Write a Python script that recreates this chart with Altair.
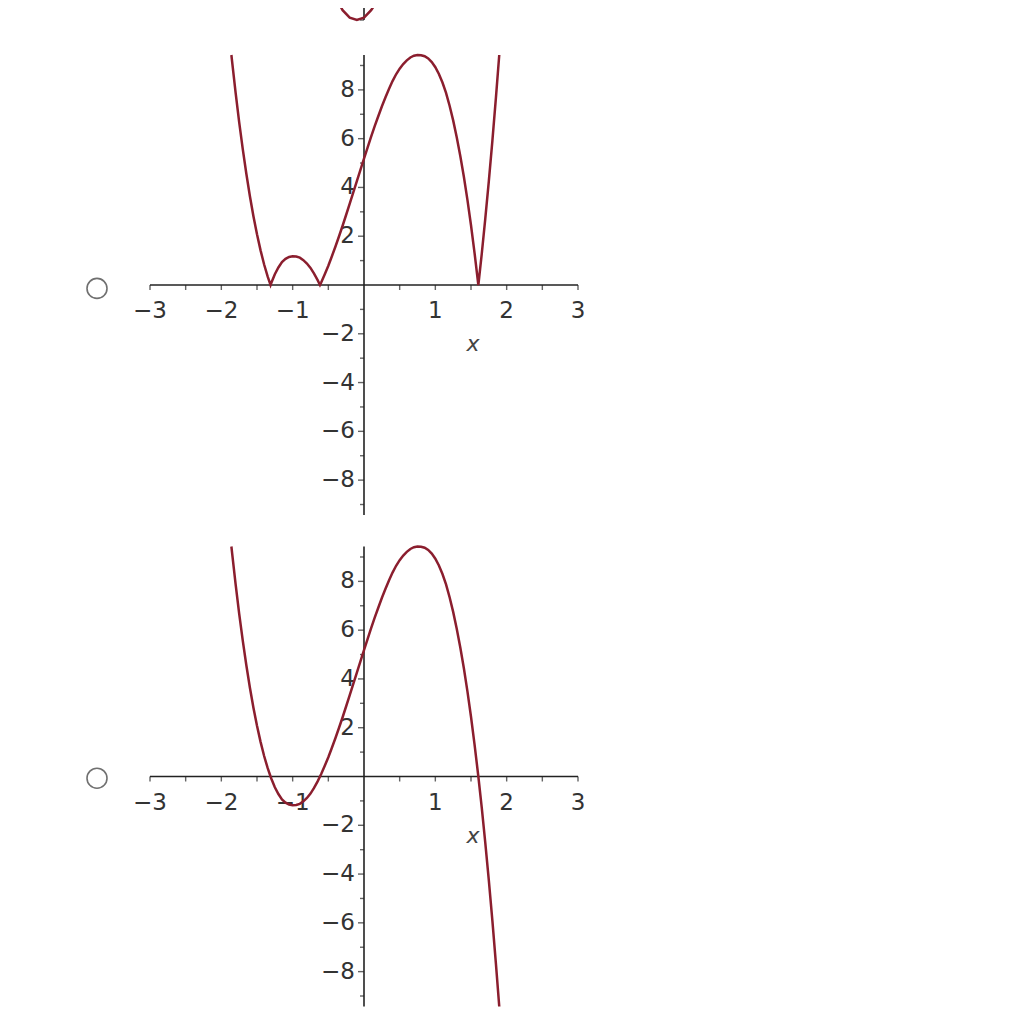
import altair as alt
import pandas as pd

# ---------------- data ----------------
# x positions along the curve
fx = [-1.859, -1.85, -1.80, -1.75, -1.70, -1.65, -1.60, -1.55, -1.50, -1.45,
      -1.40, -1.35, -1.31, -1.30, -1.25, -1.20, -1.15, -1.10, -1.05, -1.00,
      -0.95, -0.90, -0.85, -0.80, -0.75, -0.70, -0.65, -0.617, -0.60, -0.55,
      -0.50, -0.45, -0.40, -0.35, -0.30, -0.25, -0.20, -0.15, -0.10, -0.05,
      0.00, 0.05, 0.10, 0.15, 0.20, 0.25, 0.30, 0.35, 0.40, 0.45,
      0.50, 0.55, 0.60, 0.65, 0.70, 0.75, 0.80, 0.85, 0.90, 0.95,
      1.00, 1.05, 1.10, 1.15, 1.20, 1.25, 1.30, 1.35, 1.40, 1.45,
      1.50, 1.55, 1.603, 1.65, 1.70, 1.75, 1.80, 1.85, 1.896]

# lower option: the curve itself
fy = [9.43, 9.19, 7.89, 6.68, 5.58, 4.57, 3.65, 2.82, 2.08, 1.42,
      0.84, 0.34, 0.00, -0.08, -0.44, -0.72, -0.94, -1.07, -1.15, -1.18,
      -1.17, -1.12, -1.02, -0.88, -0.70, -0.47, -0.20, 0.00, 0.10, 0.44,
      0.79, 1.18, 1.58, 2.00, 2.43, 2.88, 3.34, 3.80, 4.26, 4.72,
      5.18, 5.63, 6.08, 6.51, 6.92, 7.32, 7.69, 8.04, 8.36, 8.64,
      8.87, 9.06, 9.21, 9.33, 9.40, 9.43, 9.42, 9.38, 9.29, 9.14,
      8.93, 8.65, 8.30, 7.88, 7.35, 6.75, 6.06, 5.29, 4.44, 3.49,
      2.45, 1.31, 0.00, -1.26, -2.71, -4.26, -5.92, -7.70, -9.43]

# upper option: the folded (absolute value) curve
gy = [9.43, 9.19, 7.89, 6.68, 5.58, 4.57, 3.65, 2.82, 2.08, 1.42,
      0.84, 0.34, 0.00, 0.08, 0.44, 0.72, 0.94, 1.07, 1.15, 1.18,
      1.17, 1.12, 1.02, 0.88, 0.70, 0.47, 0.20, 0.00, 0.10, 0.44,
      0.79, 1.18, 1.58, 2.00, 2.43, 2.88, 3.34, 3.80, 4.26, 4.72,
      5.18, 5.63, 6.08, 6.51, 6.92, 7.32, 7.69, 8.04, 8.36, 8.64,
      8.87, 9.06, 9.21, 9.33, 9.40, 9.43, 9.42, 9.38, 9.29, 9.14,
      8.93, 8.65, 8.30, 7.88, 7.35, 6.75, 6.06, 5.29, 4.44, 3.49,
      2.45, 1.31, 0.00, 1.26, 2.71, 4.26, 5.92, 7.70, 9.43]

# bottom of the previous (cut-off) option at the top of the page
tx = [-0.50, -0.40, -0.30, -0.20, -0.10, 0.00, 0.10, 0.20, 0.30]
ty = [-7.50, -8.05, -8.60, -8.90, -9.00, -8.90, -8.60, -8.15, -7.55]

x_ticks = [-3, -2.5, -2, -1.5, -1, -0.5, 0.5, 1, 1.5, 2, 2.5, 3]
x_labels = [-3, -2, -1, 1, 2, 3]
y_major = [-8, -6, -4, -2, 2, 4, 6, 8]
y_minor = [-9, -7, -5, -3, -1, 1, 3, 5, 7, 9]

# ---------------- styling ----------------
M = 8
FONT = "DejaVu Sans"
CURVE = "#8B1E2E"
AX = "#222222"
TXT = "#333333"

xscale = alt.Scale(domain=[-3, 3], range=[150 - M, 578 - M], nice=False, zero=False)


def lab(v):
    return ("\u2212" if v < 0 else "") + str(abs(int(v)))


def panel(lim, bottom_px, top_px, cx, cy, full=True, radio_y=-0.1):
    ys = alt.Scale(domain=[-lim, lim], range=[bottom_px - M, top_px - M],
                   nice=False, zero=False)

    def X(f):
        return alt.X(f, type="quantitative", scale=xscale, axis=None)

    def Y(f):
        return alt.Y(f, type="quantitative", scale=ys, axis=None)

    L = []
    # y axis line
    L.append(alt.Chart(pd.DataFrame({"x": [0], "y": [-lim], "y2": [lim]}))
             .mark_rule(color=AX, strokeWidth=1.6)
             .encode(x=X("x"), y=Y("y"), y2="y2:Q"))
    # y ticks
    L.append(alt.Chart(pd.DataFrame({"x": [0] * len(y_major), "y": y_major}))
             .mark_tick(orient="horizontal", size=6, thickness=1.4, color=AX, xOffset=-3)
             .encode(x=X("x"), y=Y("y")))
    L.append(alt.Chart(pd.DataFrame({"x": [0] * len(y_minor), "y": y_minor}))
             .mark_tick(orient="horizontal", size=4, thickness=1.4, color=AX, xOffset=-2)
             .encode(x=X("x"), y=Y("y")))
    if full:
        # y labels
        L.append(alt.Chart(pd.DataFrame({"x": [0] * len(y_major), "y": y_major,
                                         "t": [lab(v) for v in y_major]}))
                 .mark_text(align="right", baseline="middle", dx=-9, font=FONT,
                            fontSize=23, color=TXT)
                 .encode(x=X("x"), y=Y("y"), text="t:N"))
        # x axis line
        L.append(alt.Chart(pd.DataFrame({"x": [-3], "x2": [3], "y": [0]}))
                 .mark_rule(color=AX, strokeWidth=1.6)
                 .encode(x=X("x"), x2="x2:Q", y=Y("y")))
        # x ticks
        L.append(alt.Chart(pd.DataFrame({"x": x_ticks, "y": [0] * len(x_ticks)}))
                 .mark_tick(orient="vertical", size=5, thickness=1.4, color=AX, yOffset=2.5)
                 .encode(x=X("x"), y=Y("y")))
        # x labels
        L.append(alt.Chart(pd.DataFrame({"x": x_labels, "y": [0] * len(x_labels),
                                         "t": [lab(v) for v in x_labels]}))
                 .mark_text(align="center", baseline="alphabetic", dy=33, font=FONT,
                            fontSize=23, color=TXT)
                 .encode(x=X("x"), y=Y("y"), text="t:N"))
        # axis title "x"
        L.append(alt.Chart(pd.DataFrame({"x": [1.53], "y": [0], "t": ["x"]}))
                 .mark_text(align="center", baseline="alphabetic", dy=66, font=FONT,
                            fontSize=22, fontStyle="italic", color="#444444")
                 .encode(x=X("x"), y=Y("y"), text="t:N"))
        # radio button
        L.append(alt.Chart(pd.DataFrame({"x": [-3.743], "y": [radio_y]}))
                 .mark_point(shape="circle", size=400, fill="white", stroke="#707070",
                             strokeWidth=1.6, fillOpacity=1, opacity=1)
                 .encode(x=X("x"), y=Y("y")))
    # curve
    L.append(alt.Chart(pd.DataFrame({"x": cx, "y": cy}))
             .mark_line(color=CURVE, strokeWidth=2.5, interpolate="linear")
             .encode(x=X("x"), y=Y("y"), order="x:Q"))
    return L


layers = []
layers += panel(9.0, 20, -419.2, tx, ty, full=False)
layers += panel(9.43, 515, 55, fx, gy, radio_y=-0.14)
layers += panel(9.43, 1006.5, 546.5, fx, fy, radio_y=-0.07)

chart = (alt.layer(*layers)
         .resolve_scale(y="independent")
         .properties(width=1002, height=1008, padding=0, autosize="none",
                     background="white")
         .configure_view(stroke=None))

chart.save("out.html", embed_options={"renderer": "svg", "actions": False})
